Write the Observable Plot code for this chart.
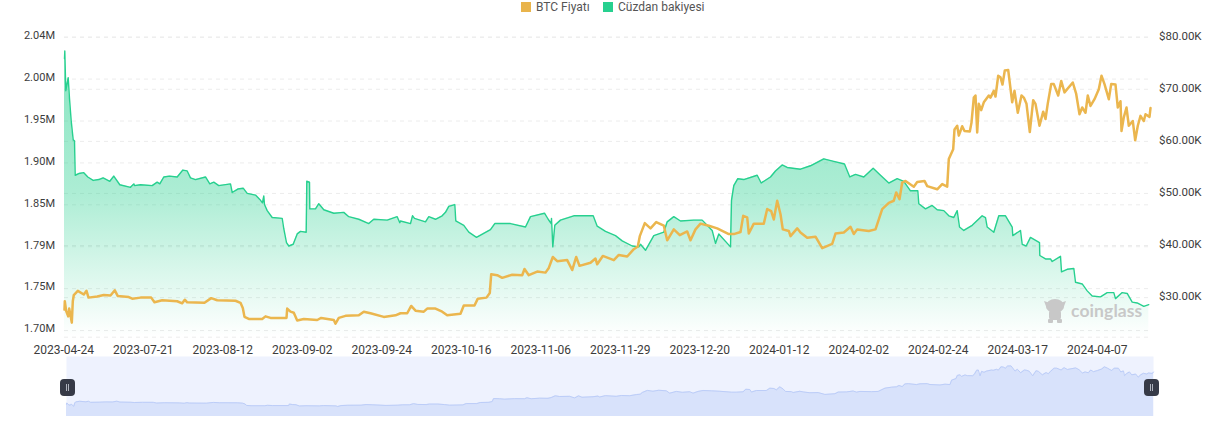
<!DOCTYPE html>
<html>
<head>
<meta charset="utf-8">
<script src="https://cdn.jsdelivr.net/npm/d3@7"></script>
<script src="https://cdn.jsdelivr.net/npm/@observablehq/plot@0.6"></script>
<style>
html,body{margin:0;padding:0;background:#fff;overflow:hidden}
#page{position:relative;width:1223px;height:432px;font-family:Roboto,sans-serif}
#legend{height:14px;position:relative;font-size:12px;line-height:14px;color:#555}
#legend i{position:absolute;top:2px;width:10px;height:10px}
#legend span{position:absolute;top:0;white-space:nowrap}
.handle{position:absolute;top:379px;width:15px;height:17px;background:#363a47;border-radius:4px}
.handle:before,.handle:after{content:"";position:absolute;top:5px;width:1px;height:7px;background:#aeb2bd}
.handle:before{left:6px}.handle:after{left:8px}
#mark{position:absolute;left:1043px;top:297px;width:102px;height:28px}
#mark span{position:absolute;left:28px;top:3px;font:700 17.5px Lato,sans-serif;color:#c8c8c8;letter-spacing:.1px}
svg{display:block}
</style>
</head>
<body>
<div id="page">
  <div id="legend">
    <i style="left:521px;background:#e9b44c"></i><span style="left:536px">BTC Fiyatı</span>
    <i style="left:603px;background:#27d08f"></i><span style="left:618px">Cüzdan bakiyesi</span>
  </div>
  <div id="main"></div>
  <div id="mini"></div>
  <div class="handle" style="left:60px"></div>
  <div class="handle" style="left:1144px"></div>
  <div id="mark">
    <svg width="26" height="28" viewBox="0 0 26 28"><g fill="#c8c8c8"><ellipse cx="12" cy="9" rx="9" ry="7"/><path d="M1 4l6 2-3 6zM23 4l-6 2 3 6z"/><rect x="6" y="13" width="12" height="10" rx="3"/><rect x="5" y="22" width="5" height="4" rx="1"/><rect x="14" y="22" width="5" height="4" rx="1"/></g></svg>
    <span>coinglass</span>
  </div>
</div>
<script>
const tickDates = ["2023-04-24","2023-07-21","2023-08-12","2023-09-02","2023-09-24","2023-10-16","2023-11-06","2023-11-29","2023-12-20","2024-01-12","2024-02-02","2024-02-24","2024-03-17","2024-04-07"];
const tickStep = 79.5;
const leftTickLabels = ["1.70M","1.75M","1.79M","1.85M","1.90M","1.95M","2.00M","2.04M"];
const rightTickValues = [30,40,50,60,70,80];
const sampleCount = 1086;

// [sample index along the category axis, wallet balance in millions]
const walletPoints = [[0,2.015],[0.3,2.024],[1.3,1.978],[3.7,1.993],[5,1.969],[6.7,1.943],[8.7,1.921],[10,1.920],[10.7,1.880],[14.3,1.882],[19.3,1.883],[23.3,1.878],[28.7,1.874],[34.3,1.875],[38.7,1.877],[42,1.875],[45.3,1.873],[49.3,1.879],[55.3,1.869],[66,1.866],[69.3,1.870],[70,1.868],[76,1.869],[87.7,1.868],[92.7,1.872],[95.3,1.870],[99.3,1.878],[105,1.879],[112.7,1.878],[118.3,1.886],[122.7,1.885],[126,1.877],[131,1.875],[141,1.878],[145.3,1.870],[149.3,1.872],[154.3,1.868],[166,1.870],[167.7,1.860],[173.3,1.864],[178.7,1.865],[182.7,1.859],[191,1.857],[195.3,1.852],[198,1.848],[199.3,1.856],[200,1.846],[202.7,1.839],[207.7,1.831],[217.7,1.830],[219.3,1.818],[222,1.802],[224.3,1.798],[228.7,1.800],[232.7,1.812],[236,1.815],[241.7,1.814],[242.3,1.873],[245,1.872],[245.3,1.841],[251,1.841],[254.3,1.847],[259.3,1.840],[269.3,1.836],[279.3,1.837],[284.3,1.832],[294.3,1.829],[304.3,1.824],[309.3,1.829],[322.7,1.828],[332.7,1.832],[335.3,1.825],[336,1.827],[346,1.824],[348,1.833],[350,1.830],[361,1.826],[364.3,1.832],[371,1.829],[377.7,1.833],[381,1.837],[384.3,1.844],[390.3,1.846],[391.3,1.827],[399.3,1.822],[404.3,1.814],[412,1.808],[426,1.817],[430.3,1.824],[446,1.824],[461,1.820],[466,1.832],[480,1.836],[483.7,1.829],[486.7,1.824],[487,1.830],[488.3,1.797],[490.3,1.822],[496,1.828],[509.3,1.833],[516,1.833],[528.7,1.833],[532.7,1.821],[541,1.815],[551,1.810],[557.7,1.804],[567.7,1.798],[574.3,1.797],[576,1.800],[581,1.793],[589.3,1.810],[599.3,1.814],[602.7,1.826],[609.3,1.832],[616,1.827],[629.3,1.828],[637.7,1.828],[647.7,1.816],[651,1.801],[654.3,1.812],[666,1.797],[667,1.851],[669.3,1.868],[673.3,1.876],[679.3,1.875],[692.7,1.880],[696.7,1.871],[706,1.878],[711,1.885],[717.7,1.892],[722.7,1.889],[736,1.887],[746,1.891],[759.3,1.899],[769.3,1.896],[780,1.893],[785.3,1.878],[791,1.881],[799.3,1.878],[808.7,1.888],[816,1.880],[824.3,1.871],[832.7,1.876],[839.3,1.873],[846,1.862],[853.3,1.862],[854.3,1.847],[861,1.841],[867.7,1.845],[872.7,1.840],[879.3,1.839],[884.3,1.833],[889.3,1.831],[892.7,1.839],[895,1.820],[899.3,1.816],[907.7,1.822],[917.7,1.833],[921,1.831],[922.7,1.820],[929.3,1.814],[934.3,1.833],[941,1.833],[947.7,1.820],[948.3,1.810],[956,1.816],[957.7,1.800],[961.7,1.798],[966,1.808],[975,1.802],[975.3,1.787],[981,1.783],[986,1.783],[987.7,1.780],[996,1.786],[997,1.768],[1002.7,1.771],[1009.3,1.772],[1011,1.756],[1017.7,1.754],[1022.7,1.746],[1027.7,1.740],[1036,1.739],[1042.7,1.744],[1049.3,1.744],[1051,1.737],[1057.7,1.744],[1062.7,1.743],[1067.7,1.733],[1072.7,1.732],[1079.3,1.728],[1084.3,1.730]];

// [sample index along the category axis, BTC price in thousands of dollars]
const btcPoints = [[0,27.7],[0.3,29.3],[1.7,27.4],[3.7,26.4],[4.7,27.9],[7.3,25.2],[8.3,29.3],[9.3,30.5],[13.3,31.3],[19.3,30.6],[22,31.3],[24,30.0],[32.7,30.2],[39.3,30.5],[46,30.4],[50.3,31.4],[53.3,30.3],[64.3,30.1],[67.7,29.8],[76,30.0],[86.7,30.0],[90,29.1],[97.7,29.5],[112.7,29.3],[117.7,28.9],[120.3,29.6],[122.7,29.1],[140,29.0],[146.7,29.9],[152.7,29.5],[171,29.4],[176,29.0],[178.3,28.0],[180,26.3],[184.3,25.9],[197.7,25.9],[201,26.4],[206,26.1],[222,26.1],[222.7,27.9],[226,27.3],[229.3,27.1],[232.7,25.6],[239.3,25.9],[252.7,25.7],[256.7,26.1],[269.3,25.7],[271,25.0],[274.3,26.1],[281,26.5],[294.3,26.6],[299.3,27.3],[306,27.0],[319.3,26.3],[331,26.6],[336,27.0],[342.7,27.0],[346.7,28.4],[351,27.5],[359.3,27.3],[362.7,27.9],[371,27.9],[377.7,27.3],[382.7,26.6],[396,26.9],[399.3,28.5],[410,28.5],[413.3,29.8],[422,30.0],[425.3,30.9],[426.7,34.5],[432.7,34.3],[437.7,33.8],[447.7,34.4],[457.7,34.3],[460,35.5],[464.3,34.3],[472.7,35.0],[481,34.8],[484.3,35.7],[488.3,37.8],[492.7,37.0],[502.7,37.2],[507.7,35.3],[511.7,37.8],[515,36.1],[526,36.7],[531,37.5],[532.7,36.4],[538.3,38.0],[549.3,37.2],[554.3,38.2],[562.7,37.9],[569.3,39.3],[573.3,39.8],[575.3,41.8],[580.3,44.3],[586,43.3],[591.7,44.5],[599.3,43.8],[602.7,41.0],[609.3,43.1],[615.3,42.0],[622.7,42.7],[626,41.0],[631,43.1],[636,44.2],[644.3,43.8],[652.7,43.3],[664.3,42.2],[669.3,42.2],[676,42.6],[678.7,45.7],[682.7,45.4],[684.3,42.3],[689.3,44.2],[699.3,44.2],[702.7,47.0],[706.7,46.6],[709.3,45.0],[712.7,48.6],[716,46.0],[718.3,43.1],[724.3,42.8],[726,41.8],[732.7,43.3],[736,42.5],[742.7,41.5],[751,41.7],[757.7,39.5],[767.7,40.3],[771,42.3],[779.3,42.5],[786,43.6],[789.3,42.2],[792.7,43.1],[804.3,42.8],[811,43.1],[817.7,47.0],[824.3,48.2],[829.3,48.6],[831.7,50.2],[835,48.9],[837.7,52.1],[841,52.4],[849.3,51.3],[852.7,52.2],[860,52.4],[862.7,51.4],[872.7,50.8],[877.7,51.8],[882.7,51.3],[884.3,56.6],[888.7,58.5],[890,62.3],[892.7,63.0],[894.3,61.1],[897.7,62.9],[900,62.0],[905.3,61.9],[907,63.6],[909.3,68.4],[911,68.8],[912.7,61.7],[914.3,67.2],[916.7,66.0],[919.3,67.5],[924.3,68.8],[926,68.4],[929.3,69.7],[931,68.6],[933.7,72.6],[936,72.3],[938,70.9],[940.3,73.6],[943.7,73.7],[947.7,67.5],[950,69.7],[953.3,65.5],[957,68.8],[959.3,68.4],[962,67.2],[965.3,61.8],[968.7,67.9],[971,67.2],[975,63.0],[978.7,65.7],[981,64.3],[983.3,67.3],[986.7,71.0],[989.3,71.0],[993.7,68.8],[996.7,71.6],[1000,69.4],[1008.3,71.3],[1011.7,69.1],[1015,65.2],[1017.7,66.5],[1021,65.5],[1023.3,68.8],[1026,66.8],[1030,68.1],[1034.3,70.0],[1037,72.6],[1040,71.0],[1044.3,68.1],[1046.7,71.0],[1051,70.9],[1053.3,66.5],[1056,67.7],[1057,62.0],[1059.3,64.6],[1062,66.5],[1064.3,63.0],[1068.3,63.9],[1070.7,60.2],[1073.3,63.0],[1076,64.9],[1079.3,63.9],[1081,65.2],[1085,64.7],[1086,66.4]];

const wallet = walletPoints.map(([i, v]) => ({i, v}));
const btc = btcPoints.map(([i, v]) => ({i, v}));
const leftMin = 1.6923, leftMax = 2.04;
const priceToLeft = d3.scaleLinear().domain([22.4, 80]).range([leftMin, leftMax]);
const btcOnLeft = btc.map(d => ({i: d.i, v: priceToLeft(d.v)}));
const leftTicks = leftTickLabels.map((_, k) => 1.70 + k * (2.04 - 1.70) / 7);
const rightTicks = rightTickValues.map(v => priceToLeft(v));
const xTicks = tickDates.map((_, k) => k * tickStep);
const gridColor = "#ececec";
const labelColor = "#3c3c3c";

const gradient = () => {
  const defs = d3.create("svg:defs");
  const g = defs.append("linearGradient").attr("id", "walletFill").attr("x1", 0).attr("y1", 0).attr("x2", 0).attr("y2", 1);
  [[0, .56], [.5, .38], [1, 0]].forEach(([o, a]) =>
    g.append("stop").attr("offset", o).attr("stop-color", "#27d08f").attr("stop-opacity", a));
  return defs.node();
};

const main = Plot.plot({
  width: 1223, height: 342,
  marginLeft: 64, marginRight: 73, marginTop: 22.7, marginBottom: 19.3,
  style: {fontFamily: "Roboto, sans-serif", fontSize: "12px", color: labelColor, background: "transparent"},
  x: {type: "linear", domain: [0, sampleCount]},
  y: {type: "linear", domain: [leftMin, leftMax]},
  marks: [
    gradient,
    Plot.ruleY([...leftTicks, ...rightTicks, leftMin], {stroke: gridColor, strokeDasharray: "4 4", strokeWidth: 1}),
    Plot.areaY(wallet, {x: "i", y1: leftMin, y2: "v", fill: "url(#walletFill)"}),
    Plot.lineY(wallet, {x: "i", y: "v", stroke: "#27d08f", strokeWidth: 1.4, curve: "linear"}),
    Plot.lineY(btcOnLeft, {x: "i", y: "v", stroke: "#ebb64e", strokeWidth: 2.5, curve: "linear"}),
    Plot.axisX({ticks: xTicks, tickFormat: (d, k) => tickDates[k], tickSize: 0, tickPadding: 8, dx: -0.7, label: null, fontSize: 12, color: labelColor, textAnchor: "middle"}),
    Plot.axisY({anchor: "left", ticks: leftTicks, tickFormat: (d, k) => leftTickLabels[k], tickSize: 0, tickPadding: 9.5, dy: -1.7, label: null, fontSize: 11, color: labelColor}),
    Plot.axisY({anchor: "right", ticks: rightTicks, tickFormat: (d, k) => "$" + rightTickValues[k].toFixed(2) + "K", tickSize: 0, tickPadding: 8.5, dy: -1, label: null, fontSize: 11.5, color: labelColor})
  ]
});
document.getElementById("main").appendChild(main);

const miniLow = 13, miniHigh = 85;
const mini = Plot.plot({
  width: 1223, height: 60,
  marginLeft: 66, marginRight: 70, marginTop: 0, marginBottom: 0,
  style: {background: "transparent"},
  x: {type: "linear", domain: [0, sampleCount], axis: null},
  y: {type: "linear", domain: [miniLow, miniHigh], axis: null},
  marks: [
    Plot.frame({fill: "#eef2fe", stroke: "none"}),
    Plot.areaY(btc, {x: "i", y1: miniLow, y2: "v", fill: "#d8e2fb"}),
    Plot.lineY(btc, {x: "i", y: "v", stroke: "#bccdf8", strokeWidth: 1})
  ]
});
document.getElementById("mini").appendChild(mini);
</script>
</body>
</html>
